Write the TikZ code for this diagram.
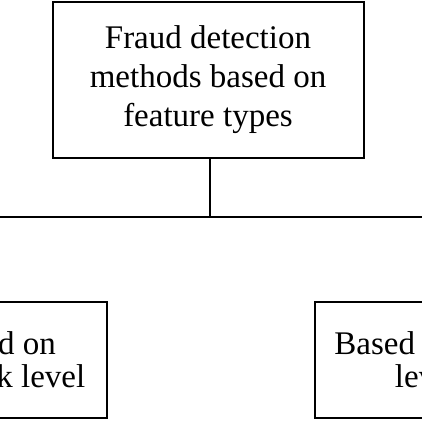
\documentclass[tikz,border=0pt]{standalone}
\usepackage{fontspec}
\setmainfont{Liberation Serif}
\usetikzlibrary{positioning}

\begin{document}
\begin{tikzpicture}[
  x=1pt, y=1pt,
  every node/.style={font=\fontsize{33}{39}\selectfont},
  topbox/.style={draw, line width=2pt, align=center,
                 minimum width=311pt, minimum height=156pt, inner sep=0pt},
  branchbox/.style={draw, line width=2pt, align=center,
                    font=\fontsize{33}{33}\selectfont,
                    minimum width=224pt, minimum height=116pt, inner sep=0pt},
  conn/.style={line width=1.5pt, draw=black},
]
\useasboundingbox (0,0) rectangle (422,422);
\clip (0,0) rectangle (422,422);

% Root
\node[topbox] (root) at (208,342)
  {Fraud detection\\methods based on\\feature types};

% Branches
\node[branchbox] (network) at (-5,62)
  {Based on\\network level};
\node[branchbox] (user) at (427,62)
  {Based on user\\level};

% Connectors
\coordinate (split) at (210,205);
\draw[conn] (root.south -| split) -- (split);
\draw[conn] (split) -| (network.north);
\draw[conn] (split) -| (user.north);

\end{tikzpicture}
\end{document}
